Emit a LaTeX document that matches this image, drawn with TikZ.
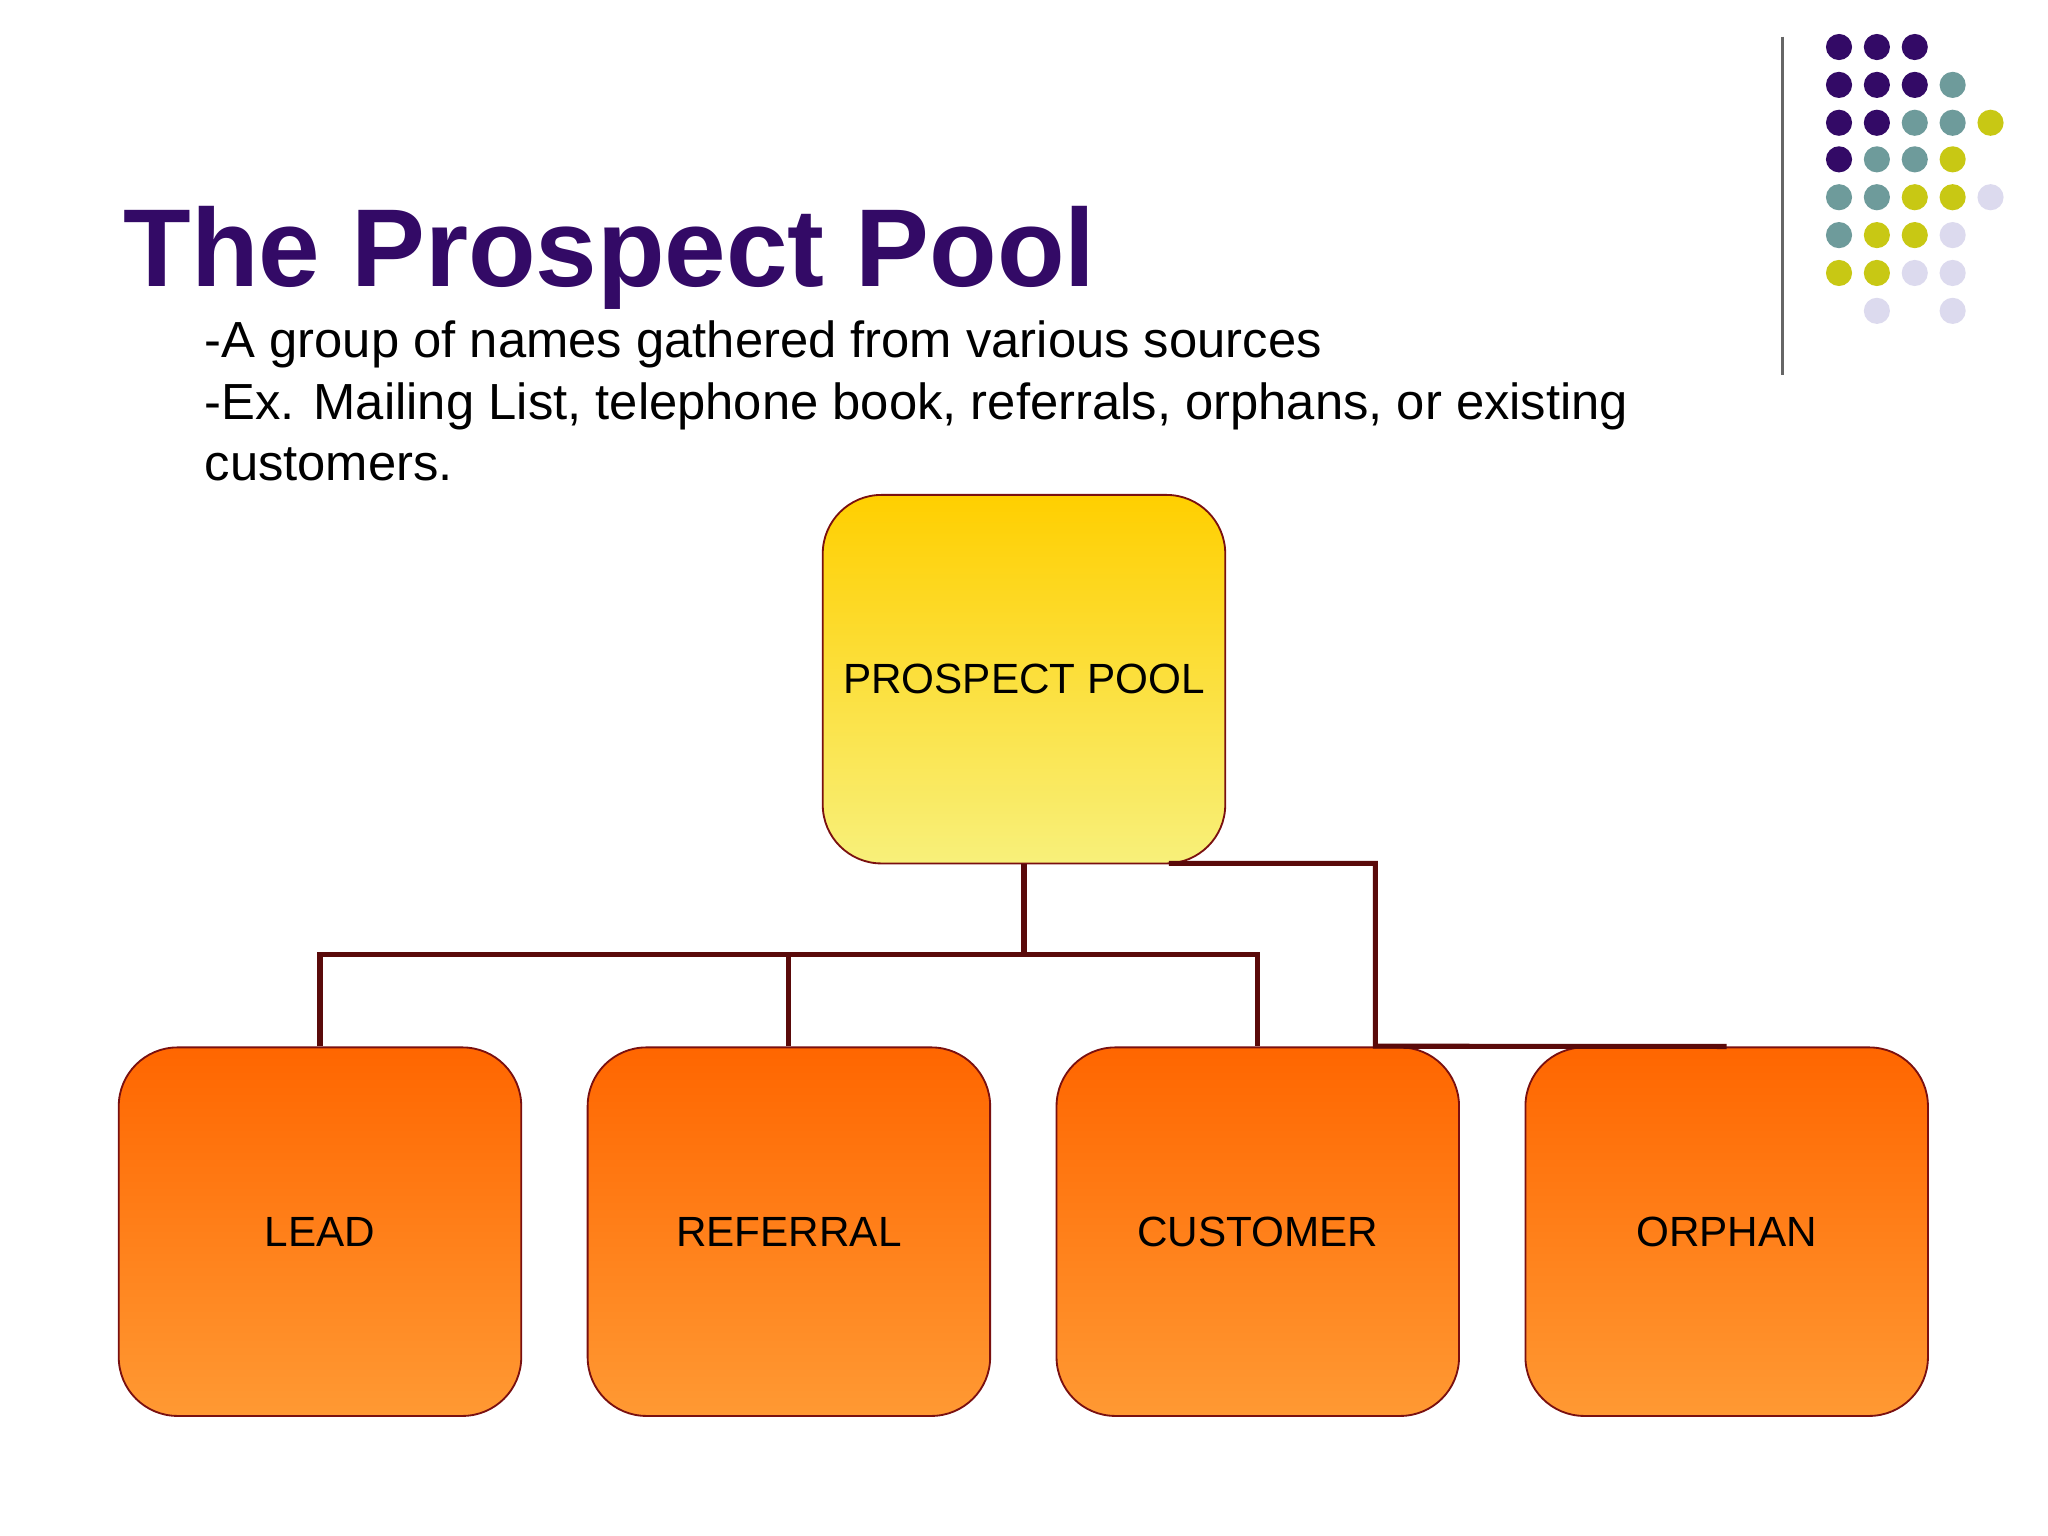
\documentclass[tikz,border=0pt]{standalone}
\usepackage{fontspec}
\setmainfont{Liberation Sans}
\begin{document}
\begin{tikzpicture}[x=0.01cm,y=-0.01cm,
  box/.style={draw=bordc,line width=0.4pt,rounded corners=0.45cm,minimum width=3.08cm,minimum height=2.82cm,inner sep=0pt,font=\fontsize{9.2}{11}\selectfont},
  ybox/.style={box,top color=ytop,bottom color=ybot},
  obox/.style={box,top color=otop,bottom color=obot},
  conn/.style={draw=connc,line width=1.1pt},
  dot/.style={circle,inner sep=0pt,minimum size=0.2cm}]
\definecolor{titlec}{HTML}{330A66}
\definecolor{pur}{HTML}{330A66}
\definecolor{teal}{HTML}{6E9B9B}
\definecolor{yel}{HTML}{C8C814}
\definecolor{lav}{HTML}{DCDAEE}
\definecolor{bordc}{HTML}{7A1010}
\definecolor{connc}{HTML}{5A0A0A}
\definecolor{ytop}{HTML}{FFCF00}
\definecolor{ybot}{HTML}{F8F07A}
\definecolor{otop}{HTML}{FF6600}
\definecolor{obot}{HTML}{FF9933}
\useasboundingbox (0,0) rectangle (1568,1176);
\fill[white] (0,0) rectangle (1568,1176);
% title and text
\node[anchor=base west,inner sep=0pt,text=titlec,font=\fontsize{24.1}{28}\selectfont\bfseries] (title) at (94,219) {The Prospect Pool};
\node[anchor=base west,inner sep=0pt,font=\fontsize{11.05}{14}\selectfont] (l1) at (156,274) {-A group of names gathered from various sources};
\node[anchor=base west,inner sep=0pt,font=\fontsize{11.05}{14}\selectfont] (l2) at (156,321) {-Ex. Mailing List, telephone book, referrals, orphans, or existing};
\node[anchor=base west,inner sep=0pt,font=\fontsize{11.05}{14}\selectfont] (l3) at (156,368) {customers.};
% decorative line and dots
\draw[gray!80!black,line width=0.6pt] (1365,28) -- (1365,287);
\foreach \x/\y/\c in {1408/36/pur,1437/36/pur,1466/36/pur,
 1408/65/pur,1437/65/pur,1466/65/pur,1495/65/teal,
 1408/94/pur,1437/94/pur,1466/94/teal,1495/94/teal,1524/94/yel,
 1408/122/pur,1437/122/teal,1466/122/teal,1495/122/yel,
 1408/151/teal,1437/151/teal,1466/151/yel,1495/151/yel,1524/151/lav,
 1408/180/teal,1437/180/yel,1466/180/yel,1495/180/lav,
 1408/209/yel,1437/209/yel,1466/209/lav,1495/209/lav,
 1437/238/lav,1495/238/lav}
 \node[dot,fill=\c] at (\x,\y) {};
% boxes
\node[ybox] (pp) at (784,520) {PROSPECT POOL};
\node[obox] (lead) at (245,943) {LEAD};
\node[obox] (ref) at (604,943) {REFERRAL};
\node[obox] (cust) at (963,943) {CUSTOMER};
\node[obox] (orph) at (1322,943) {ORPHAN};
% connectors
\coordinate (j) at (784,731);
\coordinate (r) at (895,661);
\draw[conn] (pp.south) -- (j);
\draw[conn] (lead.north) -- (lead.north |- j) -- (cust.north |- j) -- (cust.north);
\draw[conn] (ref.north) -- (ref.north |- j);
\draw[conn] (r) -- (1053,661) -- (1053,801) -- (orph.north);
\end{tikzpicture}
\end{document}
